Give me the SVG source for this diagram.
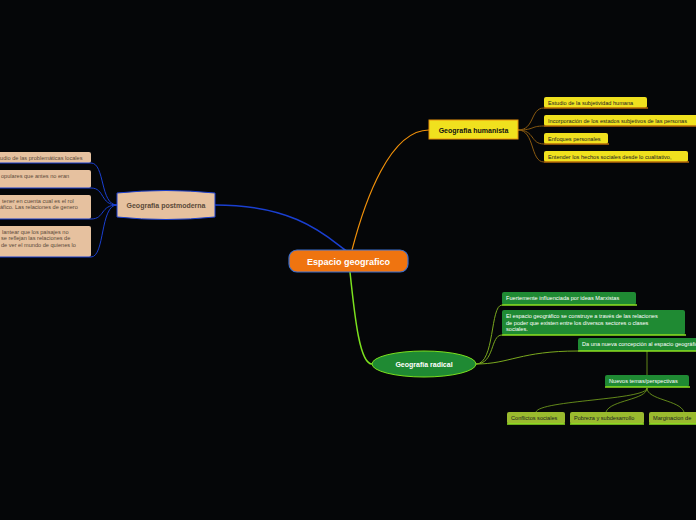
<svg xmlns="http://www.w3.org/2000/svg" width="696" height="520" viewBox="0 0 696 520">
<style>
text{font-family:"Liberation Sans",Arial,sans-serif}
.s{font-size:5.6px}
.tan{fill:#e6c19f}
.tt{fill:#5a4a3a}
.yel{fill:#f0e11e}
.gr{fill:#1f8a33}
.ol{fill:#9aba2e}
.w{fill:#ffffff}
</style>
<rect width="696" height="520" fill="#050608"/>
<g id="connectors" fill="none">
<path d="M348,252 C330,240 300,205 215,205" stroke="#1a3fd0" stroke-width="1.5"/>
<path d="M117,205 C100,205 105,163 91,163 M117,205 C100,205 105,188 91,188 M117,205 C100,205 105,219 91,219 M117,205 C100,205 105,257 91,257" stroke="#1a3fd0" stroke-width="1"/>
<path d="M352,250 C365,200 390,130 429,130" stroke="#f0900a" stroke-width="1.2"/>
<path d="M518,130 C535,130 530,108 544,108 M518,130 C535,130 530,126 544,126 M518,130 C535,130 530,144 544,144 M518,130 C535,130 530,162 544,162" stroke="#8a5a10" stroke-width="1"/>
<path d="M350,272 C355,320 360,364 372,364" stroke="#7be01e" stroke-width="1.5"/>
<path d="M476,364 C495,364 490,305 502,305 M476,364 C495,364 490,335 502,335 M476,364 C510,364 520,351 578,351" stroke="#7aa81e" stroke-width="1"/>
<path d="M647,351 L647,375 M647,388 C647,400 540,400 536,412 M647,388 C647,400 610,400 606,412 M647,388 C647,400 680,400 684,412" stroke="#7aa81e" stroke-width="0.8"/>
</g>
<g id="central">
<rect x="289" y="250" width="119" height="22" rx="8" fill="#ef7410" stroke="#3a6fd0" stroke-width="1.2"/>
<text x="348.5" y="264.5" text-anchor="middle" class="w" font-size="9" font-weight="bold">Espacio geografico</text>
</g>
<g id="postmoderna">
<path d="M117,193 Q166,188 215,193 L215,217 Q166,222 117,217 Z" class="tan" stroke="#1a3fd0" stroke-width="1"/>
<text x="166" y="208" text-anchor="middle" class="tt" font-size="7" font-weight="bold">Geografia postmoderna</text>
</g>
<g id="pm1"><rect x="-10" y="152" width="101" height="11" rx="2" class="tan"/><line x1="0" y1="163" x2="91" y2="163" stroke="#1a3fd0"/><text x="-8" y="159.5" class="s tt">Estudio de las problemáticas locales</text></g>
<g id="pm2"><rect x="-10" y="170" width="101" height="18" rx="2" class="tan"/><line x1="0" y1="188" x2="91" y2="188" stroke="#1a3fd0"/><text x="1" y="177.5" class="s tt">opulares que antes no eran</text></g>
<g id="pm3"><rect x="-10" y="195" width="101" height="24" rx="2" class="tan"/><line x1="0" y1="219" x2="91" y2="219" stroke="#1a3fd0"/><text x="2" y="202.5" class="s tt">tener en cuenta cual es el rol</text><text x="0" y="209" class="s tt">áfico. Las relaciones de genero</text></g>
<g id="pm4"><rect x="-10" y="226" width="101" height="31" rx="2" class="tan"/><line x1="0" y1="257" x2="91" y2="257" stroke="#1a3fd0"/><text x="2" y="233.5" class="s tt">lantear que los paisajes no</text><text x="1" y="240" class="s tt">se reflejan las relaciones de</text><text x="1" y="246.5" class="s tt">de ver el mundo de quienes lo</text></g>
<g id="humanista">
<rect x="429" y="120" width="89" height="19" class="yel" stroke="#e8900a" stroke-width="1"/>
<text x="473.5" y="132.5" text-anchor="middle" font-size="7" font-weight="bold" fill="#111">Geografia humanista</text>
</g>
<g id="h1"><rect x="544" y="97" width="103" height="11" rx="2" class="yel"/><line x1="544" y1="108" x2="648" y2="108" stroke="#b86a08" stroke-width="1.5"/><text x="548" y="104.5" class="s" fill="#222">Estudio de la subjetividad humana</text></g>
<g id="h2"><rect x="544" y="115" width="160" height="11" rx="2" class="yel"/><line x1="544" y1="126" x2="704" y2="126" stroke="#b86a08" stroke-width="1.5"/><text x="548" y="122.5" class="s" fill="#222">Incorporación de los estados subjetivos de las personas</text></g>
<g id="h3"><rect x="544" y="133" width="64" height="11" rx="2" class="yel"/><line x1="544" y1="144" x2="609" y2="144" stroke="#b86a08" stroke-width="1.5"/><text x="548" y="140.5" class="s" fill="#222">Enfoques personales</text></g>
<g id="h4"><rect x="544" y="151" width="144" height="11" rx="2" class="yel"/><line x1="544" y1="162" x2="689" y2="162" stroke="#b86a08" stroke-width="1.5"/><text x="548" y="158.5" class="s" fill="#222">Entender los hechos sociales desde lo cualitativo,</text></g>
<g id="radical">
<ellipse cx="424" cy="364" rx="52" ry="13" class="gr" stroke="#7be01e" stroke-width="1"/>
<text x="424" y="367" text-anchor="middle" class="w" font-size="7" font-weight="bold">Geografía radical</text>
</g>
<g id="r1"><rect x="502" y="292" width="134" height="13" rx="2" class="gr"/><line x1="502" y1="305" x2="637" y2="305" stroke="#8ee020" stroke-width="1.5"/><text x="506" y="300" class="s w">Fuertemente influenciada por ideas Marxistas</text></g>
<g id="r2"><rect x="502" y="310" width="183" height="25" rx="2" class="gr"/><line x1="502" y1="335" x2="686" y2="335" stroke="#8ee020" stroke-width="1.5"/><text x="506" y="318" class="s w">El espacio geográfico se construye a través de las relaciones</text><text x="506" y="324.5" class="s w">de poder que existen entre los diversos sectores o clases</text><text x="506" y="331" class="s w">sociales.</text></g>
<g id="r3"><rect x="578" y="338" width="130" height="13" rx="2" class="gr"/><line x1="578" y1="351" x2="708" y2="351" stroke="#8ee020" stroke-width="1.5"/><text x="582" y="346" class="s w">Da una nueva concepción al espacio geográfico</text></g>
<g id="r4"><rect x="605" y="375" width="84" height="12" rx="2" class="gr"/><line x1="605" y1="387" x2="690" y2="387" stroke="#8ee020" stroke-width="1.5"/><text x="609" y="383" class="s w">Nuevos temas/perspectivas</text></g>
<g id="c1"><rect x="507" y="412" width="58" height="12" rx="2" class="ol"/><line x1="507" y1="424" x2="565" y2="424" stroke="#8ee020" stroke-width="1.5"/><text x="511" y="420" class="s" fill="#222">Conflictos sociales</text></g>
<g id="c2"><rect x="570" y="412" width="74" height="12" rx="2" class="ol"/><line x1="570" y1="424" x2="644" y2="424" stroke="#8ee020" stroke-width="1.5"/><text x="574" y="420" class="s" fill="#222">Pobreza y subdesarrollo</text></g>
<g id="c3"><rect x="649" y="412" width="70" height="12" rx="2" class="ol"/><line x1="649" y1="424" x2="719" y2="424" stroke="#8ee020" stroke-width="1.5"/><text x="653" y="420" class="s" fill="#222">Marginacion de</text></g>
</svg>
